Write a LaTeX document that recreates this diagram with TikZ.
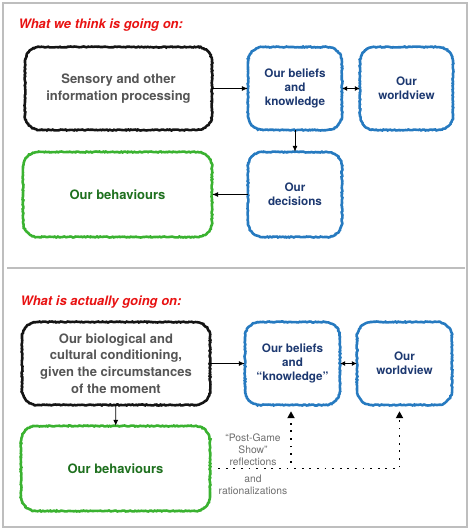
\documentclass[tikz,border=0pt]{standalone}
\usepackage{fontspec}
\setmainfont{TeX Gyre Heros}
\usetikzlibrary{arrows.meta,positioning,calc,decorations.pathmorphing}
\definecolor{hdred}{RGB}{232,18,18}
\definecolor{bxblack}{RGB}{20,20,20}
\definecolor{bxblue}{RGB}{38,122,192}
\definecolor{bxgreen}{RGB}{58,178,48}
\definecolor{txgray}{RGB}{85,85,85}
\definecolor{txnavy}{RGB}{28,56,112}
\definecolor{txgreen}{RGB}{30,112,30}
\definecolor{lbgray}{RGB}{110,110,110}
\definecolor{frm}{RGB}{190,190,190}
\tikzset{
  rbox/.style={rounded corners=15pt, inner sep=2pt, align=center,
    font=\fontsize{13}{17}\selectfont\bfseries,
    postaction={draw=#1, sharp corners, line width=2.6pt, decorate,
      decoration={random steps, segment length=1.4pt, amplitude=0.5pt}}},
  obox/.style={rbox=bxblack, text=txgray},
  bbox/.style={rbox=bxblue, text=txnavy, font=\fontsize{11.7}{14}\selectfont\bfseries},
  gbox/.style={rbox=bxgreen, text=txgreen},
  ttl/.style={anchor=west, text=hdred, font=\fontsize{13}{15}\selectfont\bfseries\itshape},
  flow/.style={-{Latex[length=6pt,width=5pt]}, line width=0.8pt},
  twoway/.style={{Latex[length=5pt,width=5pt]}-{Latex[length=5pt,width=5pt]}, line width=0.8pt},
  refl/.style={-{Triangle[length=7pt,width=7pt]}, line width=1.8pt,
    dash pattern=on 1.8pt off 5.8pt, shorten >=6pt},
  note/.style={text=lbgray, font=\fontsize{10.3}{12}\selectfont, align=center},
}
\begin{document}
\begin{tikzpicture}[x=1pt, y=-1pt]
\useasboundingbox (0,0) rectangle (474,531);
\draw[frm, line width=1.2pt] (3,3) rectangle (467,527);
\draw[frm, line width=1.5pt] (7,268) -- (465,268);
% what we think
\node[ttl] (ttl1) at (15,25) {What we think is going on:};
\node[obox, minimum width=187pt, minimum height=83pt] (sense) at (118.5,88.5)
  {Sensory and other\\information processing};
\node[bbox, minimum width=94pt, minimum height=83pt] (belief) at (295,88.5)
  {Our beliefs\\and\\knowledge};
\node[bbox, minimum width=93pt, minimum height=83pt] (world) at (406.5,88.5)
  {Our\\worldview};
\node[bbox, minimum width=94pt, minimum height=85pt] (decide) at (295,194.5)
  {Our\\decisions};
\node[gbox, minimum width=189pt, minimum height=85pt] (behave) at (117.5,194.5)
  {Our behaviours};
\draw[flow] (sense) -- (belief);
\draw[twoway] (belief) -- (world);
\draw[flow] (belief) -- (decide);
\draw[flow] (decide) -- (behave);
% what is actually going on
\node[ttl] (ttl2) at (17,302) {What is actually going on:};
\node[obox, minimum width=188pt, minimum height=83pt, font=\fontsize{13}{16.7}\selectfont\bfseries]
  (cond) at (116,363.5)
  {Our biological and\\cultural conditioning,\\given the circumstances\\of the moment};
\node[bbox, minimum width=95pt, minimum height=83pt] (belief2) at (292.5,363.5)
  {Our beliefs\\and\\“knowledge”};
\node[bbox, minimum width=95pt, minimum height=83pt] (world2) at (404.5,363.5)
  {Our\\worldview};
\node[gbox, minimum width=189pt, minimum height=85pt] (behave2) at (115.5,468.5)
  {Our behaviours};
\draw[flow] (cond) -- (belief2);
\draw[twoway] (belief2) -- (world2);
\draw[flow] (cond) -- (behave2);
\coordinate (fork) at (belief2.south |- behave2.east);
\draw[refl, shorten <=8pt] (behave2.east) -| ([xshift=-5pt]world2.south);
\draw[refl, shorten <=6pt] ([xshift=-1.5pt]fork) -- ([xshift=-1.5pt]belief2.south);
\node[note] (post) at (253,450) {“Post-Game\\Show”\\reflections};
\node[note] (rat) at (253,484.5) {and\\rationalizations};
\end{tikzpicture}
\end{document}
